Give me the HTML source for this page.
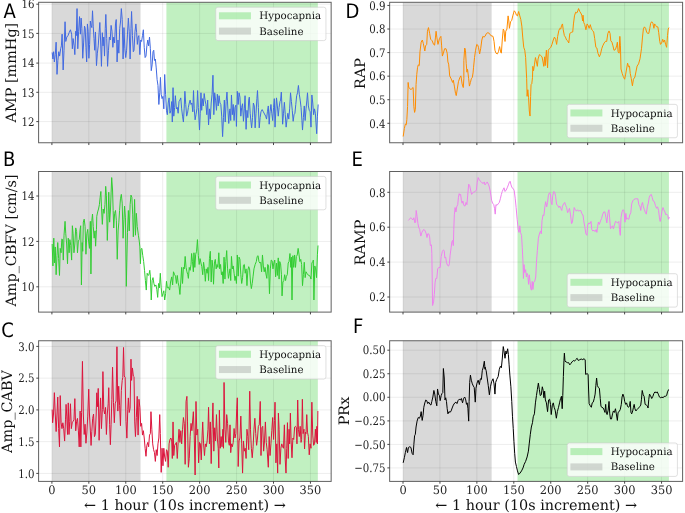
<!DOCTYPE html>
<html lang="en"><head><meta charset="utf-8"><title>Figure</title>
<style>html,body{margin:0;padding:0;background:#fff;}svg{display:block;}</style>
</head><body>
<svg width="685" height="513" viewBox="0 0 685 513" style="text-rendering:geometricPrecision">
<rect width="685" height="513" fill="#fff"/>
<g id="panelA">
<rect x="51.90" y="2.3" width="88.64" height="140.45" fill="#808080" fill-opacity="0.3"/>
<rect x="166.40" y="2.3" width="151.43" height="140.45" fill="#32cd32" fill-opacity="0.3"/>
<path d="M51.90 2.3V142.75M88.84 2.3V142.75M125.77 2.3V142.75M162.71 2.3V142.75M199.64 2.3V142.75M236.58 2.3V142.75M273.51 2.3V142.75M310.44 2.3V142.75M38.6 4.2H331.15M38.6 33.4H331.15M38.6 63.1H331.15M38.6 92.3H331.15M38.6 121.6H331.15" stroke="#000" stroke-opacity="0.09" stroke-width="0.8" fill="none"/>
<path d="M52.18 52.44L52.91 59.02L53.64 51.71L54.37 61.94L55.25 54.63L56.13 42.20L57.01 74.37L57.88 60.48L58.76 51.71L59.64 56.09L60.66 48.78L61.39 45.86L62.12 34.16L63.15 69.98L64.02 50.25L65.05 21.74L65.78 41.47L66.80 37.09L67.97 35.63L69.14 32.70L70.46 29.78L71.63 34.16L72.36 48.78L73.09 38.55L74.11 45.86L74.84 54.63L75.72 31.24L76.30 35.63L77.04 8.58L77.77 48.78L78.64 31.24L79.52 16.62L80.40 34.16L81.13 18.08L81.86 28.32L82.74 58.29L83.61 42.94L84.49 26.12L85.22 28.32L85.95 47.32L86.68 61.94L87.42 23.93L88.15 31.24L88.88 58.29L89.61 44.40L90.34 21.01L91.07 25.39L91.80 27.58L92.53 10.77L93.26 26.85L93.99 38.55L94.73 50.25L95.46 31.97L96.48 65.60L97.36 53.17L98.23 45.86L99.11 32.70L99.84 22.47L100.57 40.01L101.45 66.33L102.33 32.70L103.06 45.86L103.79 37.09L104.52 56.09L105.25 28.32L105.84 14.43L106.71 38.55L107.59 66.33L108.47 50.25L109.35 37.09L110.22 40.01L111.10 25.39L111.98 31.24L112.85 47.32L113.73 37.09L114.61 42.94L115.49 23.93L116.22 19.54L117.09 61.94L117.97 40.01L118.85 53.17L119.73 28.32L120.60 21.01L121.33 8.58L122.21 19.54L123.09 59.02L123.96 27.58L124.84 48.78L125.72 57.56L126.60 50.25L127.47 34.16L128.35 18.08L129.23 31.24L130.11 59.02L130.98 28.32L131.57 11.50L132.44 35.63L133.32 51.71L134.00 50.25L135.02 31.24L135.90 23.93L136.63 32.70L137.36 44.40L138.09 37.09L138.82 35.63L139.85 54.63L140.73 40.01L141.60 41.47L142.48 35.63L143.36 29.78L144.23 47.32L145.11 57.56L145.99 56.09L146.87 45.86L147.74 40.01L148.62 45.86L149.50 37.09L150.37 48.78L151.25 70.71L152.13 64.87L153.01 51.71L153.74 50.25L154.47 60.48L155.35 59.02L156.22 67.92L157.10 79.62L157.98 85.47L158.85 104.47L159.73 92.78L160.46 77.43L161.19 94.24L162.07 98.63L162.95 96.43L163.82 108.86L164.70 74.50L165.58 94.24L166.46 110.32L167.33 114.71L168.21 103.01L169.09 97.89L169.96 113.25L170.84 110.32L171.72 101.55L172.30 122.02L173.04 87.66L173.77 116.17L174.64 107.40L175.37 95.70L176.40 108.86L177.27 107.40L178.15 113.25L179.03 101.55L179.91 100.09L180.78 97.89L181.66 108.86L182.54 116.17L183.42 122.02L184.15 108.86L184.88 91.32L185.75 104.47L186.63 116.17L187.51 113.25L188.39 107.40L189.26 103.01L190.14 100.09L191.02 104.47L191.89 103.01L192.77 111.78L193.50 90.58L194.23 108.86L195.11 119.82L195.99 114.71L196.87 108.86L197.60 90.58L198.33 107.40L199.50 130.06L200.23 113.25L200.96 92.78L201.69 110.32L202.42 98.63L203.30 105.94L204.18 93.51L205.05 100.09L205.93 104.47L206.81 114.71L207.68 100.09L208.56 124.94L209.44 108.86L210.32 119.09L211.19 103.01L212.07 94.24L212.95 75.23L213.82 114.71L214.70 92.78L215.58 100.09L216.46 110.32L217.33 94.24L218.21 105.94L219.09 95.70L219.96 103.01L220.84 104.47L221.72 116.17L222.60 136.64L223.47 117.63L224.35 100.09L225.23 122.02L226.11 101.55L226.98 92.05L227.86 108.86L228.74 123.48L229.61 110.32L230.00 108.86L230.73 120.56L231.46 94.97L232.34 114.71L233.22 104.47L234.09 120.56L234.97 107.40L235.85 105.20L236.43 126.40L237.31 91.32L238.19 104.47L239.06 92.78L239.94 97.16L240.82 116.17L241.70 107.40L242.57 103.74L243.45 121.29L244.33 108.86L245.06 95.70L246.08 129.33L246.96 110.32L247.84 117.63L248.71 100.09L249.30 97.16L250.18 113.25L251.05 122.75L251.64 127.87L252.51 117.63L253.39 103.01L254.27 105.94L255.15 127.87L256.02 113.25L256.90 98.63L257.49 90.58L258.36 107.40L259.24 127.87L260.12 117.63L260.99 111.78L262.16 109.59L263.33 111.78L264.50 113.98L265.67 116.17L266.55 119.09L267.43 111.78L268.30 105.94L269.18 124.21L270.06 111.78L270.94 104.47L271.81 113.25L272.69 120.56L273.57 107.40L274.30 98.63L275.03 127.13L275.91 108.86L276.49 97.89L277.37 105.94L278.25 116.17L279.12 107.40L280.00 101.55L280.58 100.09L281.32 92.05L282.05 108.86L282.63 124.21L283.51 113.25L284.39 102.28L285.26 114.71L286.14 127.13L287.02 119.09L287.89 113.25L288.77 119.09L289.65 108.86L290.53 92.78L291.40 101.55L292.28 110.32L293.16 121.29L294.04 114.71L294.91 113.25L295.79 104.47L296.67 95.70L297.54 92.78L298.42 85.47L299.30 94.24L300.18 100.09L301.05 107.40L301.93 120.56L302.51 130.06L303.39 117.63L304.27 105.94L305.15 120.56L306.02 108.86L306.90 100.09L307.49 92.78L308.36 105.94L309.24 110.32L310.12 111.78L310.99 127.13L311.87 94.97L312.75 103.01L313.63 114.71L314.50 108.86L315.38 113.25L315.96 122.75L316.70 133.71L317.43 116.17L318.16 104.47" stroke="#4169e1" stroke-width="1.0" fill="none" stroke-linejoin="round" stroke-linecap="butt"/>
<rect x="38.6" y="2.3" width="292.55" height="140.45" fill="none" stroke="#606060" stroke-width="1.0"/>
<path d="M51.90 142.75v2.3M88.84 142.75v2.3M125.77 142.75v2.3M162.71 142.75v2.3M199.64 142.75v2.3M236.58 142.75v2.3M273.51 142.75v2.3M310.44 142.75v2.3M38.6 4.2h-2.3M38.6 33.4h-2.3M38.6 63.1h-2.3M38.6 92.3h-2.3M38.6 121.6h-2.3" stroke="#333" stroke-width="0.9" fill="none"/>
<g font-family='"DejaVu Serif","Liberation Serif",serif' font-size="10" fill="#222">
<text transform="translate(34.50,8.40) scale(1,1.16)" font-size="10.2" text-anchor="end">16</text>
<text transform="translate(34.50,37.60) scale(1,1.16)" font-size="10.2" text-anchor="end">15</text>
<text transform="translate(34.50,67.30) scale(1,1.16)" font-size="10.2" text-anchor="end">14</text>
<text transform="translate(34.50,96.50) scale(1,1.16)" font-size="10.2" text-anchor="end">13</text>
<text transform="translate(34.50,125.80) scale(1,1.16)" font-size="10.2" text-anchor="end">12</text>
</g>
<text transform="translate(16.3,72.60) rotate(-90)" text-anchor="middle" font-family='"DejaVu Serif","Liberation Serif",serif' font-size="14.4" fill="#111">AMP [mmHg]</text>
<rect x="215.75" y="7.20" width="110.2" height="33.4" rx="2.2" fill="#fff" fill-opacity="0.8" stroke="#ccc" stroke-opacity="0.8" stroke-width="0.8"/>
<rect x="218.95" y="12.30" width="32" height="7" fill="#32cd32" fill-opacity="0.3"/>
<rect x="218.95" y="27.60" width="32" height="7" fill="#808080" fill-opacity="0.3"/>
<g font-family='"DejaVu Serif","Liberation Serif",serif' font-size="10.25" fill="#111"><text x="259.25" y="19.35">Hypocapnia</text><text x="259.25" y="34.65">Baseline</text></g>
<text x="3.5" y="18.2" font-family='"DejaVu Sans Condensed","Liberation Sans",sans-serif' font-size="20" fill="#000">A</text>
</g>
<g id="panelB">
<rect x="51.90" y="171.5" width="88.64" height="140.60" fill="#808080" fill-opacity="0.3"/>
<rect x="166.40" y="171.5" width="151.43" height="140.60" fill="#32cd32" fill-opacity="0.3"/>
<path d="M51.90 171.5V312.1M88.84 171.5V312.1M125.77 171.5V312.1M162.71 171.5V312.1M199.64 171.5V312.1M236.58 171.5V312.1M273.51 171.5V312.1M310.44 171.5V312.1M38.6 196.0H331.15M38.6 241.4H331.15M38.6 286.8H331.15" stroke="#000" stroke-opacity="0.09" stroke-width="0.8" fill="none"/>
<path d="M52.18 244.01L52.91 265.94L53.79 238.16L54.52 263.01L55.25 246.93L56.13 274.71L57.01 255.70L57.74 242.54L58.61 258.63L59.49 275.44L60.22 248.39L61.10 252.78L61.83 238.89L62.56 239.62L63.29 260.09L64.02 235.23L65.05 221.35L65.78 233.77L66.65 244.01L67.53 263.74L68.26 238.16L69.14 252.78L69.87 239.62L70.75 245.47L71.63 260.09L72.36 225.73L73.09 233.77L73.96 252.78L74.84 244.01L75.72 227.92L76.60 231.58L77.47 252.78L78.35 241.08L79.23 239.62L80.11 229.39L80.69 225.73L81.42 284.94L82.15 242.54L82.74 251.32L83.32 222.08L84.20 219.15L85.08 226.46L85.95 254.24L86.83 233.77L87.71 229.39L88.58 241.08L89.46 248.39L90.34 221.35L90.92 273.98L91.80 220.61L92.53 214.04L93.26 226.46L94.14 238.16L95.02 230.85L95.60 246.20L96.48 229.39L96.77 216.32L97.65 211.94L98.53 209.01L99.40 204.63L100.13 197.32L100.87 191.47L101.45 206.09L102.33 224.36L103.20 209.01L104.08 213.40L104.96 204.63L105.69 186.35L106.42 195.85L107.30 240.44L108.18 214.86L108.76 192.20L109.64 222.17L110.51 209.01L111.10 192.93L111.68 177.58L112.56 190.01L113.15 210.47L113.73 228.02L114.61 213.40L115.49 210.47L116.36 220.71L117.24 259.30L118.12 230.94L118.85 222.17L119.58 210.47L120.46 198.78L121.33 194.39L122.21 203.16L123.09 238.25L123.96 219.25L124.55 206.09L125.43 217.78L126.30 286.35L127.47 232.40L128.35 210.47L129.23 230.94L130.11 204.63L130.98 195.12L131.86 197.32L132.74 214.86L133.32 236.79L134.00 222.08L134.58 199.42L135.46 235.23L136.34 213.30L137.22 226.46L138.39 235.23L139.26 241.08L139.85 246.93L140.43 263.74L141.02 249.12L141.89 248.39L142.77 255.70L143.65 261.55L144.53 270.32L145.40 280.56L146.28 290.06L147.16 273.25L148.04 275.44L148.91 274.71L149.79 270.32L150.37 276.17L151.25 300.00L152.13 280.56L153.01 277.63L153.88 283.48L154.76 286.40L155.93 284.94L156.81 289.33L157.68 297.37L158.56 283.48L159.44 287.87L160.32 273.25L161.19 287.87L162.07 296.64L162.95 293.71L163.82 290.79L164.70 300.00L165.58 293.71L166.46 281.29L167.33 287.87L168.50 287.13L169.67 290.06L170.55 282.02L171.72 276.90L172.60 284.94L173.47 271.78L174.64 274.71L175.52 276.17L176.40 283.48L177.27 275.44L178.15 282.75L179.03 286.40L179.91 294.44L180.78 282.02L181.66 267.40L182.54 283.48L183.42 267.40L184.29 268.86L185.17 256.43L186.05 267.40L186.92 271.78L187.80 274.71L188.39 278.36L189.26 267.40L190.14 270.32L191.02 264.47L191.60 253.51L192.48 261.55L193.36 271.78L193.94 252.78L194.82 267.40L195.70 254.24L196.57 251.32L197.45 239.62L198.33 255.70L199.20 264.47L200.08 258.63L200.96 263.01L201.84 266.67L202.71 274.71L203.59 262.28L204.47 268.86L205.35 281.29L206.22 268.86L207.10 273.25L207.98 267.40L208.56 280.56L209.44 258.63L210.32 251.32L211.19 282.02L212.07 260.09L212.95 268.86L213.53 284.21L214.41 263.01L215.29 259.36L216.16 268.86L217.04 264.47L217.92 267.40L218.80 252.78L219.67 268.86L220.55 264.47L221.43 274.71L222.30 271.78L223.18 283.48L224.06 257.16L224.94 279.09L225.81 261.55L226.69 250.58L227.57 268.86L228.44 278.36L229.32 273.25L230.00 268.86L230.73 280.56L231.46 256.43L232.34 268.86L233.22 265.94L234.09 273.25L234.97 280.56L235.85 276.17L236.43 283.48L237.31 254.97L238.19 276.17L239.06 257.16L239.94 259.36L240.82 274.71L241.70 283.48L242.57 277.63L243.45 265.20L244.33 264.47L245.20 273.25L246.08 268.86L246.96 285.67L247.84 270.32L248.71 266.67L249.59 268.86L250.47 282.02L251.35 288.60L252.22 283.48L253.10 276.17L253.98 268.86L255.15 264.47L256.32 261.55L257.19 256.43L258.07 255.70L258.95 261.55L259.82 263.01L260.70 262.28L261.58 271.78L262.46 254.97L263.33 265.94L264.21 271.78L265.09 267.40L265.96 273.98L266.84 278.36L267.72 264.47L268.60 265.94L269.47 293.71L270.35 268.86L271.23 260.09L272.11 260.82L272.98 268.86L273.86 263.01L274.74 260.09L275.61 276.90L276.49 263.01L277.37 275.44L278.25 257.89L279.12 279.09L279.71 261.55L280.58 263.74L281.46 274.71L282.05 295.91L282.92 282.02L283.80 280.56L284.68 274.71L285.56 280.56L286.43 276.17L287.31 274.71L288.19 263.01L289.06 261.55L289.94 253.51L290.82 267.40L291.40 257.16L291.99 300.00L292.87 255.70L293.74 267.40L294.62 254.97L295.50 267.40L296.37 256.43L297.25 254.97L298.13 248.39L299.01 254.24L299.88 261.55L300.76 259.36L301.64 264.47L302.51 285.67L303.39 274.71L304.27 262.28L305.15 277.63L306.02 271.78L306.90 273.25L307.78 274.71L308.95 275.44L310.12 276.17L310.99 279.09L311.87 263.01L312.75 261.55L313.33 260.09L313.92 300.00L314.80 265.94L315.67 268.86L316.55 277.63L317.43 254.24L318.01 245.47" stroke="#32cd32" stroke-width="1.0" fill="none" stroke-linejoin="round" stroke-linecap="butt"/>
<rect x="38.6" y="171.5" width="292.55" height="140.60" fill="none" stroke="#606060" stroke-width="1.0"/>
<path d="M51.90 312.1v2.3M88.84 312.1v2.3M125.77 312.1v2.3M162.71 312.1v2.3M199.64 312.1v2.3M236.58 312.1v2.3M273.51 312.1v2.3M310.44 312.1v2.3M38.6 196.0h-2.3M38.6 241.4h-2.3M38.6 286.8h-2.3" stroke="#333" stroke-width="0.9" fill="none"/>
<g font-family='"DejaVu Serif","Liberation Serif",serif' font-size="10" fill="#222">
<text transform="translate(34.50,200.20) scale(1,1.16)" font-size="10.2" text-anchor="end">14</text>
<text transform="translate(34.50,245.60) scale(1,1.16)" font-size="10.2" text-anchor="end">12</text>
<text transform="translate(34.50,291.00) scale(1,1.16)" font-size="10.2" text-anchor="end">10</text>
</g>
<text transform="translate(16.4,240.50) rotate(-90)" text-anchor="middle" font-family='"DejaVu Serif","Liberation Serif",serif' font-size="14.4" fill="#111">Amp_CBFV [cm/s]</text>
<rect x="215.75" y="176.40" width="110.2" height="33.4" rx="2.2" fill="#fff" fill-opacity="0.8" stroke="#ccc" stroke-opacity="0.8" stroke-width="0.8"/>
<rect x="218.95" y="181.50" width="32" height="7" fill="#32cd32" fill-opacity="0.3"/>
<rect x="218.95" y="196.80" width="32" height="7" fill="#808080" fill-opacity="0.3"/>
<g font-family='"DejaVu Serif","Liberation Serif",serif' font-size="10.25" fill="#111"><text x="259.25" y="188.55">Hypocapnia</text><text x="259.25" y="203.85">Baseline</text></g>
<text x="3.0" y="165.6" font-family='"DejaVu Sans Condensed","Liberation Sans",sans-serif' font-size="20" fill="#000">B</text>
</g>
<g id="panelC">
<rect x="51.90" y="340.75" width="88.64" height="140.65" fill="#808080" fill-opacity="0.3"/>
<rect x="166.40" y="340.75" width="151.43" height="140.65" fill="#32cd32" fill-opacity="0.3"/>
<path d="M51.90 340.75V481.4M88.84 340.75V481.4M125.77 340.75V481.4M162.71 340.75V481.4M199.64 340.75V481.4M236.58 340.75V481.4M273.51 340.75V481.4M310.44 340.75V481.4M38.6 346.4H331.15M38.6 378.15H331.15M38.6 409.9H331.15M38.6 441.65H331.15M38.6 473.4H331.15" stroke="#000" stroke-opacity="0.09" stroke-width="0.8" fill="none"/>
<path d="M52.18 409.62L52.62 422.78L53.50 414.01L54.37 392.66L55.25 414.01L56.13 431.55L57.01 414.01L57.74 397.05L58.61 428.63L59.49 446.90L60.22 395.58L61.10 422.78L61.98 428.63L62.85 422.78L63.73 428.63L64.61 441.05L65.49 419.85L66.07 404.36L66.80 416.93L67.53 434.47L68.26 402.89L68.99 434.47L69.73 421.32L70.46 403.77L71.33 428.63L72.21 422.78L73.09 421.32L73.96 419.85L74.84 398.65L75.72 430.82L76.60 421.32L77.47 418.39L78.35 430.09L79.23 446.90L80.11 411.08L80.84 446.90L81.57 412.54L82.44 361.37L83.32 414.01L84.20 434.47L85.08 424.24L85.95 443.25L86.83 433.01L87.71 416.93L88.73 389.15L89.46 414.01L90.34 430.09L91.07 445.44L91.80 431.55L92.68 418.39L93.56 414.01L94.43 436.67L95.31 434.47L96.19 414.01L96.77 392.81L97.50 406.70L98.23 388.42L99.11 440.32L99.84 414.01L100.57 397.92L101.45 428.63L102.33 409.62L102.91 371.61L103.79 409.62L104.67 414.01L105.54 407.43L106.42 434.47L107.30 414.01L108.18 403.77L108.76 387.69L109.64 424.24L110.37 444.71L111.10 424.24L111.83 399.39L112.56 367.22L113.44 402.31L114.32 422.78L115.19 403.77L116.07 400.85L116.95 346.75L117.82 411.08L118.70 386.23L119.58 405.23L120.46 425.70L121.33 390.61L122.21 380.38L122.80 377.46L123.53 347.49L124.26 375.99L125.13 377.46L126.01 421.32L126.89 438.13L127.77 409.62L128.35 397.92L129.23 412.54L130.11 408.16L130.98 359.18L131.57 380.38L132.44 367.95L133.32 375.99L134.00 376.61L134.73 421.93L135.46 436.55L136.34 417.54L137.22 396.35L138.09 435.09L138.97 399.27L139.85 407.31L140.73 426.32L141.60 423.39L142.48 435.09L143.36 430.70L144.23 438.01L145.11 448.25L145.99 456.29L146.87 445.32L147.74 442.40L148.62 446.78L149.50 435.09L150.37 433.63L150.96 411.70L151.84 429.24L152.71 443.86L153.59 449.71L154.47 452.63L155.35 461.40L156.22 449.71L157.10 455.56L157.98 443.86L158.85 438.01L159.73 414.62L160.32 433.63L161.19 472.37L162.07 448.25L162.95 465.79L163.82 448.25L164.70 457.02L165.58 461.40L166.46 449.71L167.33 451.17L168.21 467.25L169.09 443.86L169.96 439.47L170.84 438.01L171.72 440.94L172.30 458.48L173.04 421.93L173.77 455.56L174.64 445.32L175.52 443.86L176.40 442.40L177.27 458.48L178.15 442.40L179.03 429.24L179.91 442.40L180.78 430.70L181.66 443.86L182.54 429.24L183.42 417.54L184.29 423.39L185.17 464.33L186.05 401.46L186.92 396.35L187.51 421.93L188.39 467.25L189.26 458.48L190.14 436.55L191.02 423.39L191.89 430.70L192.77 419.01L193.36 411.70L194.23 435.09L195.11 475.00L195.99 401.46L196.87 435.09L197.74 429.24L198.62 462.87L199.50 442.40L200.37 443.86L201.25 459.94L202.13 435.09L202.71 421.93L203.59 443.86L204.47 455.56L205.35 443.86L206.22 446.78L207.10 440.94L207.98 429.24L208.56 407.31L209.44 443.86L210.32 421.93L211.19 463.60L212.07 429.24L212.95 402.92L213.82 451.17L214.70 427.78L215.58 440.94L216.46 414.62L217.33 438.01L218.21 448.25L218.80 467.98L219.38 410.23L220.26 448.25L221.13 436.55L222.01 446.78L222.89 429.24L223.47 448.25L224.06 382.46L224.94 429.24L225.81 442.40L226.69 414.62L227.57 423.39L228.44 440.94L229.32 445.32L230.00 424.85L230.73 452.63L231.46 443.86L232.34 446.78L233.22 442.40L234.09 428.51L234.97 438.01L235.85 433.63L236.73 408.77L237.31 397.81L238.19 466.52L239.06 440.94L239.94 438.01L240.82 416.08L241.70 443.86L242.57 473.10L243.45 440.94L244.33 451.17L245.20 448.25L246.08 458.48L246.96 429.24L247.84 436.55L248.71 449.71L249.74 391.23L250.47 429.24L251.35 448.25L252.22 457.75L253.10 446.78L253.98 429.24L254.85 418.27L255.73 433.63L256.61 445.32L257.49 438.01L258.36 426.32L259.24 424.85L260.26 401.46L260.99 455.56L261.87 427.78L262.75 426.32L263.63 451.17L264.50 440.94L265.38 421.93L266.26 442.40L267.13 449.71L268.30 467.25L269.18 436.55L270.06 455.56L270.94 443.86L271.81 430.70L272.69 417.54L273.57 439.47L274.44 420.47L275.03 402.19L275.91 462.87L276.78 443.86L277.66 473.10L278.39 413.16L279.12 429.24L280.00 464.33L280.88 448.25L281.75 443.86L282.63 446.78L283.51 448.25L284.39 424.85L285.26 459.94L285.99 473.10L286.73 448.25L287.46 422.66L288.19 458.48L289.06 429.24L289.65 443.86L290.38 413.16L291.11 440.94L291.99 457.75L292.87 438.01L293.74 439.47L294.62 427.05L295.50 426.32L296.37 427.78L296.96 443.86L297.69 400.00L298.42 429.24L299.30 436.55L300.18 426.32L301.05 442.40L301.64 439.47L302.37 399.27L303.10 433.63L303.98 429.24L304.56 448.98L305.44 432.16L306.02 433.63L306.75 414.62L307.49 432.16L308.36 436.55L309.24 454.82L310.12 443.86L310.99 448.25L311.87 402.19L312.75 435.09L313.63 445.32L314.50 443.86L315.38 429.24L316.26 442.40L316.84 426.32L317.43 443.86L317.87 410.96" stroke="#dc143c" stroke-width="1.0" fill="none" stroke-linejoin="round" stroke-linecap="butt"/>
<rect x="38.6" y="340.75" width="292.55" height="140.65" fill="none" stroke="#606060" stroke-width="1.0"/>
<path d="M51.90 481.4v2.3M88.84 481.4v2.3M125.77 481.4v2.3M162.71 481.4v2.3M199.64 481.4v2.3M236.58 481.4v2.3M273.51 481.4v2.3M310.44 481.4v2.3M38.6 346.4h-2.3M38.6 378.15h-2.3M38.6 409.9h-2.3M38.6 441.65h-2.3M38.6 473.4h-2.3" stroke="#333" stroke-width="0.9" fill="none"/>
<g font-family='"DejaVu Serif","Liberation Serif",serif' font-size="10" fill="#222">
<text transform="translate(34.50,350.60) scale(1,1.16)" font-size="10.2" text-anchor="end">3.0</text>
<text transform="translate(34.50,382.35) scale(1,1.16)" font-size="10.2" text-anchor="end">2.5</text>
<text transform="translate(34.50,414.10) scale(1,1.16)" font-size="10.2" text-anchor="end">2.0</text>
<text transform="translate(34.50,445.85) scale(1,1.16)" font-size="10.2" text-anchor="end">1.5</text>
<text transform="translate(34.50,477.60) scale(1,1.16)" font-size="10.2" text-anchor="end">1.0</text>
<text transform="translate(51.90,494.1) scale(1,1.03)" font-size="11.4" text-anchor="middle">0</text>
<text transform="translate(88.84,494.1) scale(1,1.03)" font-size="11.4" text-anchor="middle">50</text>
<text transform="translate(125.77,494.1) scale(1,1.03)" font-size="11.4" text-anchor="middle">100</text>
<text transform="translate(162.71,494.1) scale(1,1.03)" font-size="11.4" text-anchor="middle">150</text>
<text transform="translate(199.64,494.1) scale(1,1.03)" font-size="11.4" text-anchor="middle">200</text>
<text transform="translate(236.58,494.1) scale(1,1.03)" font-size="11.4" text-anchor="middle">250</text>
<text transform="translate(273.51,494.1) scale(1,1.03)" font-size="11.4" text-anchor="middle">300</text>
<text transform="translate(310.44,494.1) scale(1,1.03)" font-size="11.4" text-anchor="middle">350</text>
</g>
<text transform="translate(12.3,411.50) rotate(-90)" text-anchor="middle" font-family='"DejaVu Serif","Liberation Serif",serif' font-size="14.4" fill="#111">Amp_CABV</text>
<text x="184.88" y="509.6" text-anchor="middle" font-family='"DejaVu Serif","Liberation Serif",serif' font-size="14.4" fill="#111">← 1 hour (10s increment) →</text>
<rect x="215.75" y="345.65" width="110.2" height="33.4" rx="2.2" fill="#fff" fill-opacity="0.8" stroke="#ccc" stroke-opacity="0.8" stroke-width="0.8"/>
<rect x="218.95" y="350.75" width="32" height="7" fill="#32cd32" fill-opacity="0.3"/>
<rect x="218.95" y="366.05" width="32" height="7" fill="#808080" fill-opacity="0.3"/>
<g font-family='"DejaVu Serif","Liberation Serif",serif' font-size="10.25" fill="#111"><text x="259.25" y="357.80">Hypocapnia</text><text x="259.25" y="373.10">Baseline</text></g>
<text x="1.2" y="336.8" font-family='"DejaVu Sans Condensed","Liberation Sans",sans-serif' font-size="20" fill="#000">C</text>
</g>
<g id="panelD">
<rect x="403.00" y="2.3" width="88.64" height="140.45" fill="#808080" fill-opacity="0.3"/>
<rect x="517.50" y="2.3" width="151.43" height="140.45" fill="#32cd32" fill-opacity="0.3"/>
<path d="M403.00 2.3V142.75M439.94 2.3V142.75M476.87 2.3V142.75M513.81 2.3V142.75M550.74 2.3V142.75M587.67 2.3V142.75M624.61 2.3V142.75M661.55 2.3V142.75M389.65 5.45H682.6M389.65 29.02H682.6M389.65 52.59H682.6M389.65 76.16H682.6M389.65 99.73H682.6M389.65 123.3H682.6" stroke="#000" stroke-opacity="0.09" stroke-width="0.8" fill="none"/>
<path d="M403.18 136.52L404.35 128.48L405.37 124.09L406.25 124.82L406.84 119.71L407.57 106.55L408.15 82.43L408.74 87.54L409.76 88.27L410.93 89.74L412.10 88.27L413.12 87.54L413.85 106.55L414.58 112.40L415.32 109.47L416.05 84.62L416.78 74.39L417.51 67.79L418.24 64.87L419.26 65.60L419.99 51.71L421.16 42.20L422.33 40.01L423.36 43.67L424.82 50.98L425.55 45.86L426.72 44.40L427.45 31.24L428.47 27.58L429.64 33.43L430.67 39.28L432.13 40.74L433.59 44.40L434.61 45.13L435.49 37.09L436.08 31.24L436.81 37.09L437.98 44.40L439.44 38.55L440.90 36.36L441.63 45.86L442.36 56.09L443.39 53.17L444.56 48.78L446.02 48.78L447.19 53.17L447.92 61.94L448.65 64.13L449.23 70.00L449.67 75.85L451.13 78.77L452.60 82.43L453.33 80.23L454.35 86.08L455.52 93.39L456.25 95.58L457.27 89.01L458.44 81.70L459.91 77.31L460.93 75.85L462.10 83.89L463.27 87.54L463.85 78.77L463.85 60.48L464.73 48.05L465.46 50.25L466.19 63.40L466.92 72.18L467.51 69.25L467.65 70.00L468.68 78.77L469.41 86.08L470.43 82.43L471.31 78.77L472.33 77.31L473.06 72.92L473.50 67.79L474.53 57.56L475.55 50.25L476.72 44.40L477.74 45.13L478.47 47.32L479.64 53.90L480.67 48.78L481.84 40.01L482.86 36.36L484.03 37.09L485.00 36.36L486.46 33.43L487.92 32.70L489.39 33.43L490.85 35.63L493.04 36.36L494.06 41.47L494.94 50.25L495.96 53.17L497.43 53.90L498.45 51.71L499.62 46.59L500.79 52.44L501.37 53.17L502.25 40.01L503.27 29.05L504.01 30.51L505.03 41.47L505.76 31.24L506.93 29.05L508.10 15.89L508.83 21.01L509.42 28.32L510.58 21.74L511.75 20.27L512.78 15.89L514.24 10.77L515.41 12.23L516.43 15.16L517.46 15.89L518.63 11.50L519.80 15.89L520.82 19.54L521.84 26.12L522.72 37.09L523.74 47.32L524.77 50.25L525.64 57.56L526.23 70.00L526.67 78.77L527.11 96.32L527.84 89.74L528.57 97.78L529.30 110.94L530.03 116.05L530.61 96.32L531.05 84.62L531.78 83.89L532.51 77.31L532.81 66.33L533.54 70.71L534.42 64.87L535.44 57.56L536.46 61.94L537.34 66.33L538.07 59.02L539.39 54.63L540.56 55.36L542.02 56.82L543.04 61.94L543.77 66.33L544.65 56.82L545.23 65.60L546.40 50.25L547.57 67.79L548.30 50.25L549.33 48.78L550.79 47.32L551.96 44.40L553.27 40.01L554.44 37.09L555.61 39.28L556.64 44.40L557.66 36.36L558.83 30.51L559.85 28.32L560.73 29.05L561.61 25.39L562.49 23.93L563.22 29.78L564.39 35.63L565.41 37.09L566.58 40.01L567.60 40.74L568.77 42.94L569.80 33.43L571.26 32.41L572.72 31.97L573.45 23.93L574.47 15.89L575.64 12.23L576.81 12.96L577.84 10.77L578.57 8.58L579.74 11.50L580.76 12.96L581.78 15.16L582.66 21.01L583.00 15.16L583.73 22.47L584.75 24.66L585.92 29.78L587.09 23.93L588.12 25.39L589.14 28.32L590.31 24.66L591.48 29.05L592.50 30.51L593.67 31.97L594.70 38.55L595.87 47.32L596.89 48.05L597.91 53.17L599.37 56.82L600.54 53.90L601.71 48.78L602.74 45.86L604.20 42.94L605.66 41.18L606.68 41.47L607.85 33.43L609.02 30.95L610.05 33.43L610.78 40.74L611.95 42.20L612.97 45.86L613.99 50.25L615.46 49.51L616.63 45.86L617.36 42.20L618.09 51.71L619.11 53.17L619.84 36.36L620.43 45.86L621.01 69.01L622.18 73.39L623.20 76.32L624.67 79.24L625.69 74.12L626.57 69.01L627.59 63.16L628.61 66.81L629.49 66.08L630.22 73.39L631.25 78.51L632.42 85.82L633.44 79.24L634.90 77.05L635.92 71.93L637.09 66.08L638.56 63.89L640.02 58.77L641.48 48.78L642.50 37.09L643.38 29.05L644.40 26.85L645.57 28.32L646.60 31.97L647.62 33.43L648.79 33.43L649.81 28.32L650.69 23.20L651.71 21.74L652.88 23.20L653.91 28.32L654.64 23.93L655.66 25.39L656.54 26.85L657.85 26.85L658.73 32.70L659.75 41.47L660.49 44.40L661.65 42.94L662.68 39.28L663.70 42.20L664.58 40.01L665.60 44.40L666.63 47.32L667.50 35.63L668.23 29.05L668.96 27.58" stroke="#ff8c00" stroke-width="1.0" fill="none" stroke-linejoin="round" stroke-linecap="butt"/>
<rect x="389.65" y="2.3" width="292.95" height="140.45" fill="none" stroke="#606060" stroke-width="1.0"/>
<path d="M403.00 142.75v2.3M439.94 142.75v2.3M476.87 142.75v2.3M513.81 142.75v2.3M550.74 142.75v2.3M587.67 142.75v2.3M624.61 142.75v2.3M661.55 142.75v2.3M389.65 5.45h-2.3M389.65 29.02h-2.3M389.65 52.59h-2.3M389.65 76.16h-2.3M389.65 99.73h-2.3M389.65 123.3h-2.3" stroke="#333" stroke-width="0.9" fill="none"/>
<g font-family='"DejaVu Serif","Liberation Serif",serif' font-size="10" fill="#222">
<text transform="translate(385.55,9.65) scale(1,1.16)" font-size="10.2" text-anchor="end">0.9</text>
<text transform="translate(385.55,33.22) scale(1,1.16)" font-size="10.2" text-anchor="end">0.8</text>
<text transform="translate(385.55,56.79) scale(1,1.16)" font-size="10.2" text-anchor="end">0.7</text>
<text transform="translate(385.55,80.36) scale(1,1.16)" font-size="10.2" text-anchor="end">0.6</text>
<text transform="translate(385.55,103.93) scale(1,1.16)" font-size="10.2" text-anchor="end">0.5</text>
<text transform="translate(385.55,127.50) scale(1,1.16)" font-size="10.2" text-anchor="end">0.4</text>
</g>
<text transform="translate(364.6,73.50) rotate(-90)" text-anchor="middle" font-family='"DejaVu Serif","Liberation Serif",serif' font-size="14.4" fill="#111">RAP</text>
<rect x="567.20" y="104.35" width="110.2" height="33.4" rx="2.2" fill="#fff" fill-opacity="0.8" stroke="#ccc" stroke-opacity="0.8" stroke-width="0.8"/>
<rect x="570.40" y="109.45" width="32" height="7" fill="#32cd32" fill-opacity="0.3"/>
<rect x="570.40" y="124.75" width="32" height="7" fill="#808080" fill-opacity="0.3"/>
<g font-family='"DejaVu Serif","Liberation Serif",serif' font-size="10.25" fill="#111"><text x="610.70" y="116.50">Hypocapnia</text><text x="610.70" y="131.80">Baseline</text></g>
<text x="345.5" y="18.3" font-family='"DejaVu Sans Condensed","Liberation Sans",sans-serif' font-size="20" fill="#000">D</text>
</g>
<g id="panelE">
<rect x="403.00" y="171.5" width="88.64" height="140.60" fill="#808080" fill-opacity="0.3"/>
<rect x="517.50" y="171.5" width="151.43" height="140.60" fill="#32cd32" fill-opacity="0.3"/>
<path d="M403.00 171.5V312.1M439.94 171.5V312.1M476.87 171.5V312.1M513.81 171.5V312.1M550.74 171.5V312.1M587.67 171.5V312.1M624.61 171.5V312.1M661.55 171.5V312.1M389.65 192.3H682.6M389.65 227.2H682.6M389.65 262.1H682.6M389.65 297.0H682.6" stroke="#000" stroke-opacity="0.09" stroke-width="0.8" fill="none"/>
<path d="M408.44 220.42L409.47 219.25L410.64 217.78L411.66 218.51L412.83 219.98L413.85 217.78L414.88 222.90L415.61 222.17L416.19 210.47L417.07 216.32L417.95 223.63L418.68 227.29L419.70 229.48L420.43 233.87L420.87 236.06L421.89 232.40L423.06 230.21L424.09 229.48L425.11 230.94L426.28 233.87L427.01 237.52L427.74 233.87L428.77 233.87L429.64 236.79L430.37 245.58L431.40 244.85L431.84 253.62L432.27 282.86L432.57 305.52L433.59 301.87L434.32 294.56L435.05 282.86L435.78 278.47L436.81 278.47L437.68 268.97L438.71 267.51L440.17 267.51L441.19 256.54L442.36 251.43L443.39 249.96L444.26 250.70L444.85 258.01L445.73 257.27L446.46 262.39L447.48 265.32L448.65 266.05L449.38 263.85L450.11 255.08L451.13 247.77L451.87 241.92L452.60 240.46L453.33 245.58L453.77 229.48L454.35 214.86L455.08 207.55L455.96 211.94L456.69 206.82L457.71 204.63L458.44 197.32L459.18 193.66L459.91 195.12L460.64 194.39L461.37 200.24L462.10 203.16L462.83 200.97L463.85 205.36L465.02 206.09L466.05 202.43L466.92 204.63L467.65 195.85L468.68 184.16L469.70 185.62L470.58 190.01L471.60 194.39L472.63 192.93L473.80 192.20L475.26 191.47L476.43 190.01L477.16 182.70L478.18 177.58L479.35 179.77L480.37 181.23L481.84 182.70L483.30 183.43L484.32 181.96L485.00 184.89L486.17 183.43L487.19 181.96L488.36 184.16L489.39 187.08L490.56 192.93L491.58 200.24L492.60 203.16L493.77 204.63L494.50 208.28L495.23 214.13L495.96 204.63L496.99 205.36L498.16 203.89L499.33 202.43L500.35 198.78L501.37 194.39L502.25 191.47L503.27 189.27L504.01 187.81L505.03 191.47L506.20 190.01L507.22 187.81L508.39 184.89L509.42 181.96L510.15 181.23L511.02 184.89L512.05 187.81L513.22 188.54L514.24 190.74L515.26 198.78L516.14 207.55L517.16 219.25L518.19 229.48L519.06 232.40L519.80 225.82L520.53 232.40L521.55 235.33L522.28 247.77L523.01 262.39L523.45 278.47L524.04 264.58L524.77 272.63L525.64 269.70L526.37 277.01L527.11 273.36L527.84 275.55L528.57 284.32L529.30 274.82L530.03 281.40L530.76 288.71L531.49 290.17L532.22 281.40L532.95 289.44L533.68 282.13L534.71 281.40L535.73 277.01L536.46 262.39L537.34 250.70L538.36 238.25L539.39 233.87L540.56 230.94L541.29 233.87L542.02 220.71L543.04 214.86L543.92 215.59L544.94 206.09L545.67 201.70L546.70 206.82L547.57 202.43L548.30 195.85L549.33 192.93L550.35 193.66L551.08 201.70L551.96 204.63L552.69 195.85L553.71 191.47L554.74 192.20L555.61 196.58L556.64 204.63L557.81 205.36L558.83 207.55L559.85 206.09L560.73 208.28L561.75 210.47L562.49 206.09L563.65 203.89L564.68 202.43L565.70 205.36L566.58 207.55L567.60 212.67L568.63 210.47L569.50 208.28L570.53 214.86L571.55 223.63L572.43 222.17L573.45 213.40L574.18 207.55L575.35 209.74L576.37 211.20L577.54 209.74L578.57 211.20L579.74 210.47L580.76 210.47L581.78 213.40L582.66 214.86L583.00 214.86L583.73 220.71L584.75 226.56L585.92 233.87L586.95 235.33L587.68 225.09L588.85 222.90L590.02 223.63L591.04 221.44L591.77 229.48L592.80 230.94L593.96 230.21L594.99 231.67L596.16 229.48L596.89 232.40L597.62 226.56L598.35 222.17L599.37 224.36L600.54 220.71L601.57 218.51L602.74 214.13L603.76 211.94L604.93 211.94L605.95 217.78L606.83 222.90L607.85 213.40L608.88 209.74L609.61 217.78L610.49 228.75L611.51 227.29L612.53 225.82L613.41 228.75L614.43 225.09L615.46 221.44L616.63 222.17L617.80 222.90L618.82 221.44L619.55 229.48L620.28 235.33L621.01 217.78L622.04 211.94L622.91 209.74L623.94 210.47L624.96 222.17L625.84 213.40L626.57 219.25L627.59 218.51L628.76 219.25L629.78 214.86L630.81 212.67L631.68 203.89L632.71 200.97L633.88 199.51L635.34 198.78L636.80 198.78L637.82 198.78L638.85 204.63L640.02 206.82L640.75 210.47L641.48 205.36L642.50 202.43L643.38 206.82L644.40 209.74L645.43 212.67L646.30 214.13L647.33 206.82L648.35 203.16L649.23 197.32L650.25 195.12L651.27 194.39L652.15 197.32L653.18 200.97L654.35 201.70L655.37 205.36L656.54 208.28L657.56 206.82L658.58 210.47L659.46 217.78L660.19 221.44L661.22 216.32L661.95 211.20L662.97 207.55L663.85 209.74L664.87 211.94L665.89 214.86L666.77 214.13L667.80 215.59L668.53 219.25L669.26 217.05" stroke="#ee82ee" stroke-width="1.0" fill="none" stroke-linejoin="round" stroke-linecap="butt"/>
<rect x="389.65" y="171.5" width="292.95" height="140.60" fill="none" stroke="#606060" stroke-width="1.0"/>
<path d="M403.00 312.1v2.3M439.94 312.1v2.3M476.87 312.1v2.3M513.81 312.1v2.3M550.74 312.1v2.3M587.67 312.1v2.3M624.61 312.1v2.3M661.55 312.1v2.3M389.65 192.3h-2.3M389.65 227.2h-2.3M389.65 262.1h-2.3M389.65 297.0h-2.3" stroke="#333" stroke-width="0.9" fill="none"/>
<g font-family='"DejaVu Serif","Liberation Serif",serif' font-size="10" fill="#222">
<text transform="translate(385.55,196.50) scale(1,1.16)" font-size="10.2" text-anchor="end">0.8</text>
<text transform="translate(385.55,231.40) scale(1,1.16)" font-size="10.2" text-anchor="end">0.6</text>
<text transform="translate(385.55,266.30) scale(1,1.16)" font-size="10.2" text-anchor="end">0.4</text>
<text transform="translate(385.55,301.20) scale(1,1.16)" font-size="10.2" text-anchor="end">0.2</text>
</g>
<text transform="translate(364.5,242.50) rotate(-90)" text-anchor="middle" font-family='"DejaVu Serif","Liberation Serif",serif' font-size="14.4" fill="#111">RAMP</text>
<rect x="567.20" y="273.70" width="110.2" height="33.4" rx="2.2" fill="#fff" fill-opacity="0.8" stroke="#ccc" stroke-opacity="0.8" stroke-width="0.8"/>
<rect x="570.40" y="278.80" width="32" height="7" fill="#32cd32" fill-opacity="0.3"/>
<rect x="570.40" y="294.10" width="32" height="7" fill="#808080" fill-opacity="0.3"/>
<g font-family='"DejaVu Serif","Liberation Serif",serif' font-size="10.25" fill="#111"><text x="610.70" y="285.85">Hypocapnia</text><text x="610.70" y="301.15">Baseline</text></g>
<text x="351.5" y="166.0" font-family='"DejaVu Sans Condensed","Liberation Sans",sans-serif' font-size="20" fill="#000">E</text>
</g>
<g id="panelF">
<rect x="403.00" y="340.75" width="88.64" height="140.65" fill="#808080" fill-opacity="0.3"/>
<rect x="517.50" y="340.75" width="151.43" height="140.65" fill="#32cd32" fill-opacity="0.3"/>
<path d="M403.00 340.75V481.4M439.94 340.75V481.4M476.87 340.75V481.4M513.81 340.75V481.4M550.74 340.75V481.4M587.67 340.75V481.4M624.61 340.75V481.4M661.55 340.75V481.4M389.65 350.2H682.6M389.65 373.74H682.6M389.65 397.28H682.6M389.65 420.9H682.6M389.65 444.4H682.6M389.65 467.9H682.6" stroke="#000" stroke-opacity="0.09" stroke-width="0.8" fill="none"/>
<path d="M403.18 462.82L404.35 457.71L405.37 452.59L406.54 447.47L407.57 452.59L408.44 447.47L409.76 446.74L410.93 447.47L412.10 453.32L413.12 454.78L413.85 444.55L414.58 435.78L415.32 434.32L416.05 427.01L417.07 421.16L418.24 417.50L419.41 418.23L420.43 416.04L421.16 411.65L422.19 420.43L423.06 415.31L423.80 407.25L424.82 402.87L425.84 399.94L426.72 400.67L427.74 403.60L428.77 402.13L429.94 404.33L430.96 405.06L431.84 401.40L432.86 397.02L433.88 390.44L434.76 394.09L435.78 401.40L436.81 405.79L437.54 388.98L438.42 394.09L439.44 395.56L440.17 400.67L441.19 395.56L442.07 393.36L442.80 392.63L443.39 368.51L444.26 378.01L444.99 399.94L445.73 397.75L446.46 401.40L447.19 408.71L447.92 413.83L448.94 411.64L450.11 412.37L451.13 410.91L452.16 407.98L453.33 405.06L454.79 402.87L455.96 402.13L456.98 403.60L458.01 400.67L459.18 399.21L460.35 399.94L461.37 398.48L462.54 402.87L463.56 398.48L464.73 397.02L465.75 399.94L466.49 404.33L467.22 402.87L467.95 408.71L468.68 421.14L469.12 401.40L469.70 382.40L470.43 375.09L471.31 380.20L472.33 383.86L473.36 386.05L474.23 387.51L475.26 402.13L475.99 388.25L477.01 383.13L478.18 380.20L479.35 384.59L480.37 378.74L481.40 379.47L482.27 370.70L483.30 367.05L484.32 361.20L485.05 369.24L485.00 367.05L486.17 370.70L487.19 378.01L488.22 385.32L489.39 394.82L490.41 386.78L491.58 381.67L493.04 378.74L494.06 383.86L494.94 394.09L495.67 382.40L496.70 379.47L498.16 376.55L499.33 369.24L500.35 366.32L501.37 367.78L502.25 359.01L503.27 346.58L504.01 350.96L505.03 358.27L505.91 350.96L506.64 353.89L507.66 348.77L508.39 354.62L509.12 364.85L509.85 375.09L510.88 386.78L511.75 401.40L512.49 416.77L513.22 428.47L513.95 441.63L514.68 453.32L515.41 462.09L516.43 466.48L517.46 470.87L518.63 474.52L520.09 473.06L521.55 470.87L523.01 467.94L524.18 464.29L525.64 461.36L527.11 456.98L528.42 451.13L529.30 443.09L530.32 434.32L531.35 427.01L532.51 422.62L533.25 416.77L534.42 413.85L535.44 402.87L536.46 395.56L537.34 389.71L538.36 383.13L539.39 389.71L540.26 395.56L541.29 394.82L542.31 386.78L543.19 390.44L543.92 397.75L544.65 391.17L545.38 399.94L546.40 402.87L547.57 411.64L548.60 399.94L549.62 399.21L550.50 404.33L551.23 414.56L552.25 405.79L553.27 402.87L554.15 407.25L555.18 410.18L556.35 418.22L557.37 411.64L558.54 407.25L559.56 402.87L560.58 398.48L561.46 396.29L562.19 408.71L562.78 395.56L563.36 376.55L563.95 360.47L564.39 353.16L564.97 361.20L566.14 361.93L567.31 362.66L568.63 362.66L569.80 364.85L570.96 363.39L571.99 361.93L573.45 360.47L574.47 361.20L575.64 359.74L577.11 358.27L578.27 360.47L579.74 359.74L581.20 359.01L582.66 359.74L583.00 359.01L584.17 359.01L585.19 359.74L585.63 374.39L587.09 373.65L588.12 374.39L588.56 389.01L589.14 403.63L590.31 405.82L591.33 407.28L592.21 402.89L593.23 402.16L594.26 398.51L595.13 394.12L595.87 385.35L596.60 378.04L597.33 385.35L598.35 387.54L599.37 388.27L600.25 398.51L600.98 406.55L602.01 407.28L603.18 408.01L604.20 410.20L604.93 412.40L605.66 404.36L606.39 413.13L607.12 414.59L608.15 410.20L609.02 401.43L609.75 413.86L610.49 418.98L611.51 418.98L612.53 413.86L613.41 410.94L614.43 412.40L615.46 408.74L616.33 413.86L617.36 420.44L618.09 412.40L619.11 411.67L620.28 409.47L621.30 404.36L622.04 397.05L622.91 394.12L623.94 397.05L624.67 401.43L625.69 404.36L626.57 402.89L627.59 406.55L628.61 407.28L629.49 405.82L630.22 401.43L630.95 412.40L631.68 413.86L632.71 410.94L633.44 407.28L634.17 404.36L634.90 408.74L635.92 410.94L637.09 409.47L638.56 408.01L639.73 406.55L640.75 405.09L641.48 399.24L642.21 390.47L643.23 394.85L644.11 396.32L645.13 404.36L646.30 405.09L647.33 405.82L648.06 408.01L648.79 399.24L649.52 394.12L650.54 395.58L651.71 398.51L652.88 396.32L653.91 393.39L654.93 391.93L656.10 392.66L657.27 391.93L658.29 394.12L659.46 397.05L660.78 397.78L661.95 397.05L663.12 397.78L664.14 396.32L665.31 396.32L666.63 395.58L667.50 391.93L668.53 389.74L668.96 389.74" stroke="#000000" stroke-width="1.0" fill="none" stroke-linejoin="round" stroke-linecap="butt"/>
<rect x="389.65" y="340.75" width="292.95" height="140.65" fill="none" stroke="#606060" stroke-width="1.0"/>
<path d="M403.00 481.4v2.3M439.94 481.4v2.3M476.87 481.4v2.3M513.81 481.4v2.3M550.74 481.4v2.3M587.67 481.4v2.3M624.61 481.4v2.3M661.55 481.4v2.3M389.65 350.2h-2.3M389.65 373.74h-2.3M389.65 397.28h-2.3M389.65 420.9h-2.3M389.65 444.4h-2.3M389.65 467.9h-2.3" stroke="#333" stroke-width="0.9" fill="none"/>
<g font-family='"DejaVu Serif","Liberation Serif",serif' font-size="10" fill="#222">
<text transform="translate(385.55,354.40) scale(1,1.16)" font-size="10.2" text-anchor="end">0.50</text>
<text transform="translate(385.55,377.94) scale(1,1.16)" font-size="10.2" text-anchor="end">0.25</text>
<text transform="translate(385.55,401.48) scale(1,1.16)" font-size="10.2" text-anchor="end">0.00</text>
<text transform="translate(385.55,425.10) scale(1,1.16)" font-size="10.2" text-anchor="end">−0.25</text>
<text transform="translate(385.55,448.60) scale(1,1.16)" font-size="10.2" text-anchor="end">−0.50</text>
<text transform="translate(385.55,472.10) scale(1,1.16)" font-size="10.2" text-anchor="end">−0.75</text>
<text transform="translate(403.00,494.1) scale(1,1.03)" font-size="11.4" text-anchor="middle">0</text>
<text transform="translate(439.94,494.1) scale(1,1.03)" font-size="11.4" text-anchor="middle">50</text>
<text transform="translate(476.87,494.1) scale(1,1.03)" font-size="11.4" text-anchor="middle">100</text>
<text transform="translate(513.81,494.1) scale(1,1.03)" font-size="11.4" text-anchor="middle">150</text>
<text transform="translate(550.74,494.1) scale(1,1.03)" font-size="11.4" text-anchor="middle">200</text>
<text transform="translate(587.67,494.1) scale(1,1.03)" font-size="11.4" text-anchor="middle">250</text>
<text transform="translate(624.61,494.1) scale(1,1.03)" font-size="11.4" text-anchor="middle">300</text>
<text transform="translate(661.55,494.1) scale(1,1.03)" font-size="11.4" text-anchor="middle">350</text>
</g>
<text transform="translate(349.0,411.00) rotate(-90)" text-anchor="middle" font-family='"DejaVu Serif","Liberation Serif",serif' font-size="14.4" fill="#111">PRx</text>
<text x="536.12" y="509.6" text-anchor="middle" font-family='"DejaVu Serif","Liberation Serif",serif' font-size="14.4" fill="#111">← 1 hour (10s increment) →</text>
<rect x="567.20" y="443.00" width="110.2" height="33.4" rx="2.2" fill="#fff" fill-opacity="0.8" stroke="#ccc" stroke-opacity="0.8" stroke-width="0.8"/>
<rect x="570.40" y="448.10" width="32" height="7" fill="#32cd32" fill-opacity="0.3"/>
<rect x="570.40" y="463.40" width="32" height="7" fill="#808080" fill-opacity="0.3"/>
<g font-family='"DejaVu Serif","Liberation Serif",serif' font-size="10.25" fill="#111"><text x="610.70" y="455.15">Hypocapnia</text><text x="610.70" y="470.45">Baseline</text></g>
<text x="352.9" y="333.2" font-family='"DejaVu Sans Condensed","Liberation Sans",sans-serif' font-size="20" fill="#000">F</text>
</g>
</svg>
</body></html>
